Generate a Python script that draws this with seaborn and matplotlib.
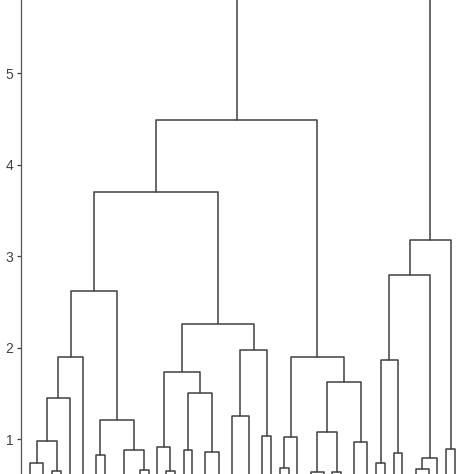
import pandas as pd
import seaborn as sns
import matplotlib.pyplot as plt

# ---------- dendrogram merge table ----------
# leaves are numbered 1..50 in plotted order, internal nodes by name
# (a* merges sit below the visible part of the axis)
node_name = ['a1', 'a2', 'a3', 'a4', 'a5', 'a6', 'a7', 'a8', 'a9', 'a10',
             'n1', 'n2', 'n3', 'n4', 'n5', 'n6', 'n7', 'n8', 'n9', 'n10',
             'n11', 'n12', 'n13', 'n14', 'n15', 'n16', 'n17', 'n18', 'n19', 'n20',
             'n21', 'n22', 'n23', 'n24', 'n25', 'n26', 'n27', 'n28', 'n29', 'n30',
             'n31', 'n32', 'n33', 'n34', 'n35', 'n36', 'n37', 'n38', 'root']
left_child = [1, 7, 11, 'a3', 21, 24, 26, 33, 38, 45,
              'a1', 4, 'n1', 'n3', 'n4', 9, 14, 'a4', 'n6', 'n5',
              17, 16, 19, 'a5', 'n13', 'n12', 'a6', 28, 'n17', 'n16',
              'n10', 30, 'n22', 'a8', 36, 'n24', 'a9', 'n26', 'n23', 'n21',
              41, 43, 'n31', 'a10', 'n34', 'n33', 49, 'n36', 'n30']
right_child = [2, 8, 12, 13, 22, 25, 27, 34, 39, 46,
               3, 5, 'n2', 6, 'a2', 10, 15, 'n7', 'n8', 'n9',
               18, 'n11', 20, 23, 'n14', 'n15', 'a7', 29, 'n18', 'n19',
               'n20', 31, 32, 35, 37, 'n25', 40, 'n27', 'n28', 'n29',
               42, 44, 'n32', 47, 48, 'n35', 50, 'n37', 'n38']
merge_height = [0.42, 0.50, 0.38, 0.55, 0.47, 0.52, 0.40, 0.45, 0.50, 0.44,
                0.74, 0.65, 0.98, 1.45, 1.90, 0.83, 0.66, 0.88, 1.21, 2.62,
                0.65, 0.92, 0.88, 0.86, 1.51, 1.74, 1.25, 1.04, 1.98, 2.26,
                3.70, 0.69, 1.02, 0.64, 0.64, 1.08, 0.97, 1.63, 1.90, 4.49,
                0.74, 0.85, 1.87, 0.68, 0.80, 2.79, 0.89, 3.18, 6.30]

y_ticks = [1, 2, 3, 4, 5]


def build_links():
    # R style layout: leaf i at x=i, a merge sits midway between its children
    pos, hgt, rows = {}, {}, []
    for name, l, r, h in zip(node_name, left_child, right_child, merge_height):
        for c in (l, r):
            if isinstance(c, int):
                pos[c] = float(c)
                hgt[c] = 0.0
        pos[name] = (pos[l] + pos[r]) / 2
        hgt[name] = h
        rows += [(name, pos[l], hgt[l]), (name, pos[l], h),
                 (name, pos[r], h), (name, pos[r], hgt[r])]
    return pd.DataFrame(rows, columns=['link', 'x', 'y'])


links = build_links()

sns.set_theme(style="white")
plt.rcParams['font.family'] = ['Liberation Sans', 'DejaVu Sans']

fig = plt.figure(figsize=(4.74, 4.74), dpi=100)
ax = fig.add_axes([20.5 / 474, 0, 1 - 20.5 / 474, 1])

sns.lineplot(data=links, x='x', y='y', units='link', estimator=None, sort=False,
             color='#404040', linewidth=1.1, legend=False, ax=ax)

ax.set_xlim(0.38, 52.17)
ax.set_ylim(0.62, 5.80)
ax.set_xlabel('')
ax.set_ylabel('')
ax.set_xticks([])
ax.set_yticks(y_ticks)
ax.set_yticklabels([str(t) for t in y_ticks])
ax.tick_params(axis='y', left=True, length=3, width=0.9, pad=2,
               labelsize=10, colors='#404040')

sns.despine(ax=ax, bottom=True)
ax.spines['left'].set_color('#555555')
ax.spines['left'].set_linewidth(0.9)

fig.savefig('out.png', dpi=100)
